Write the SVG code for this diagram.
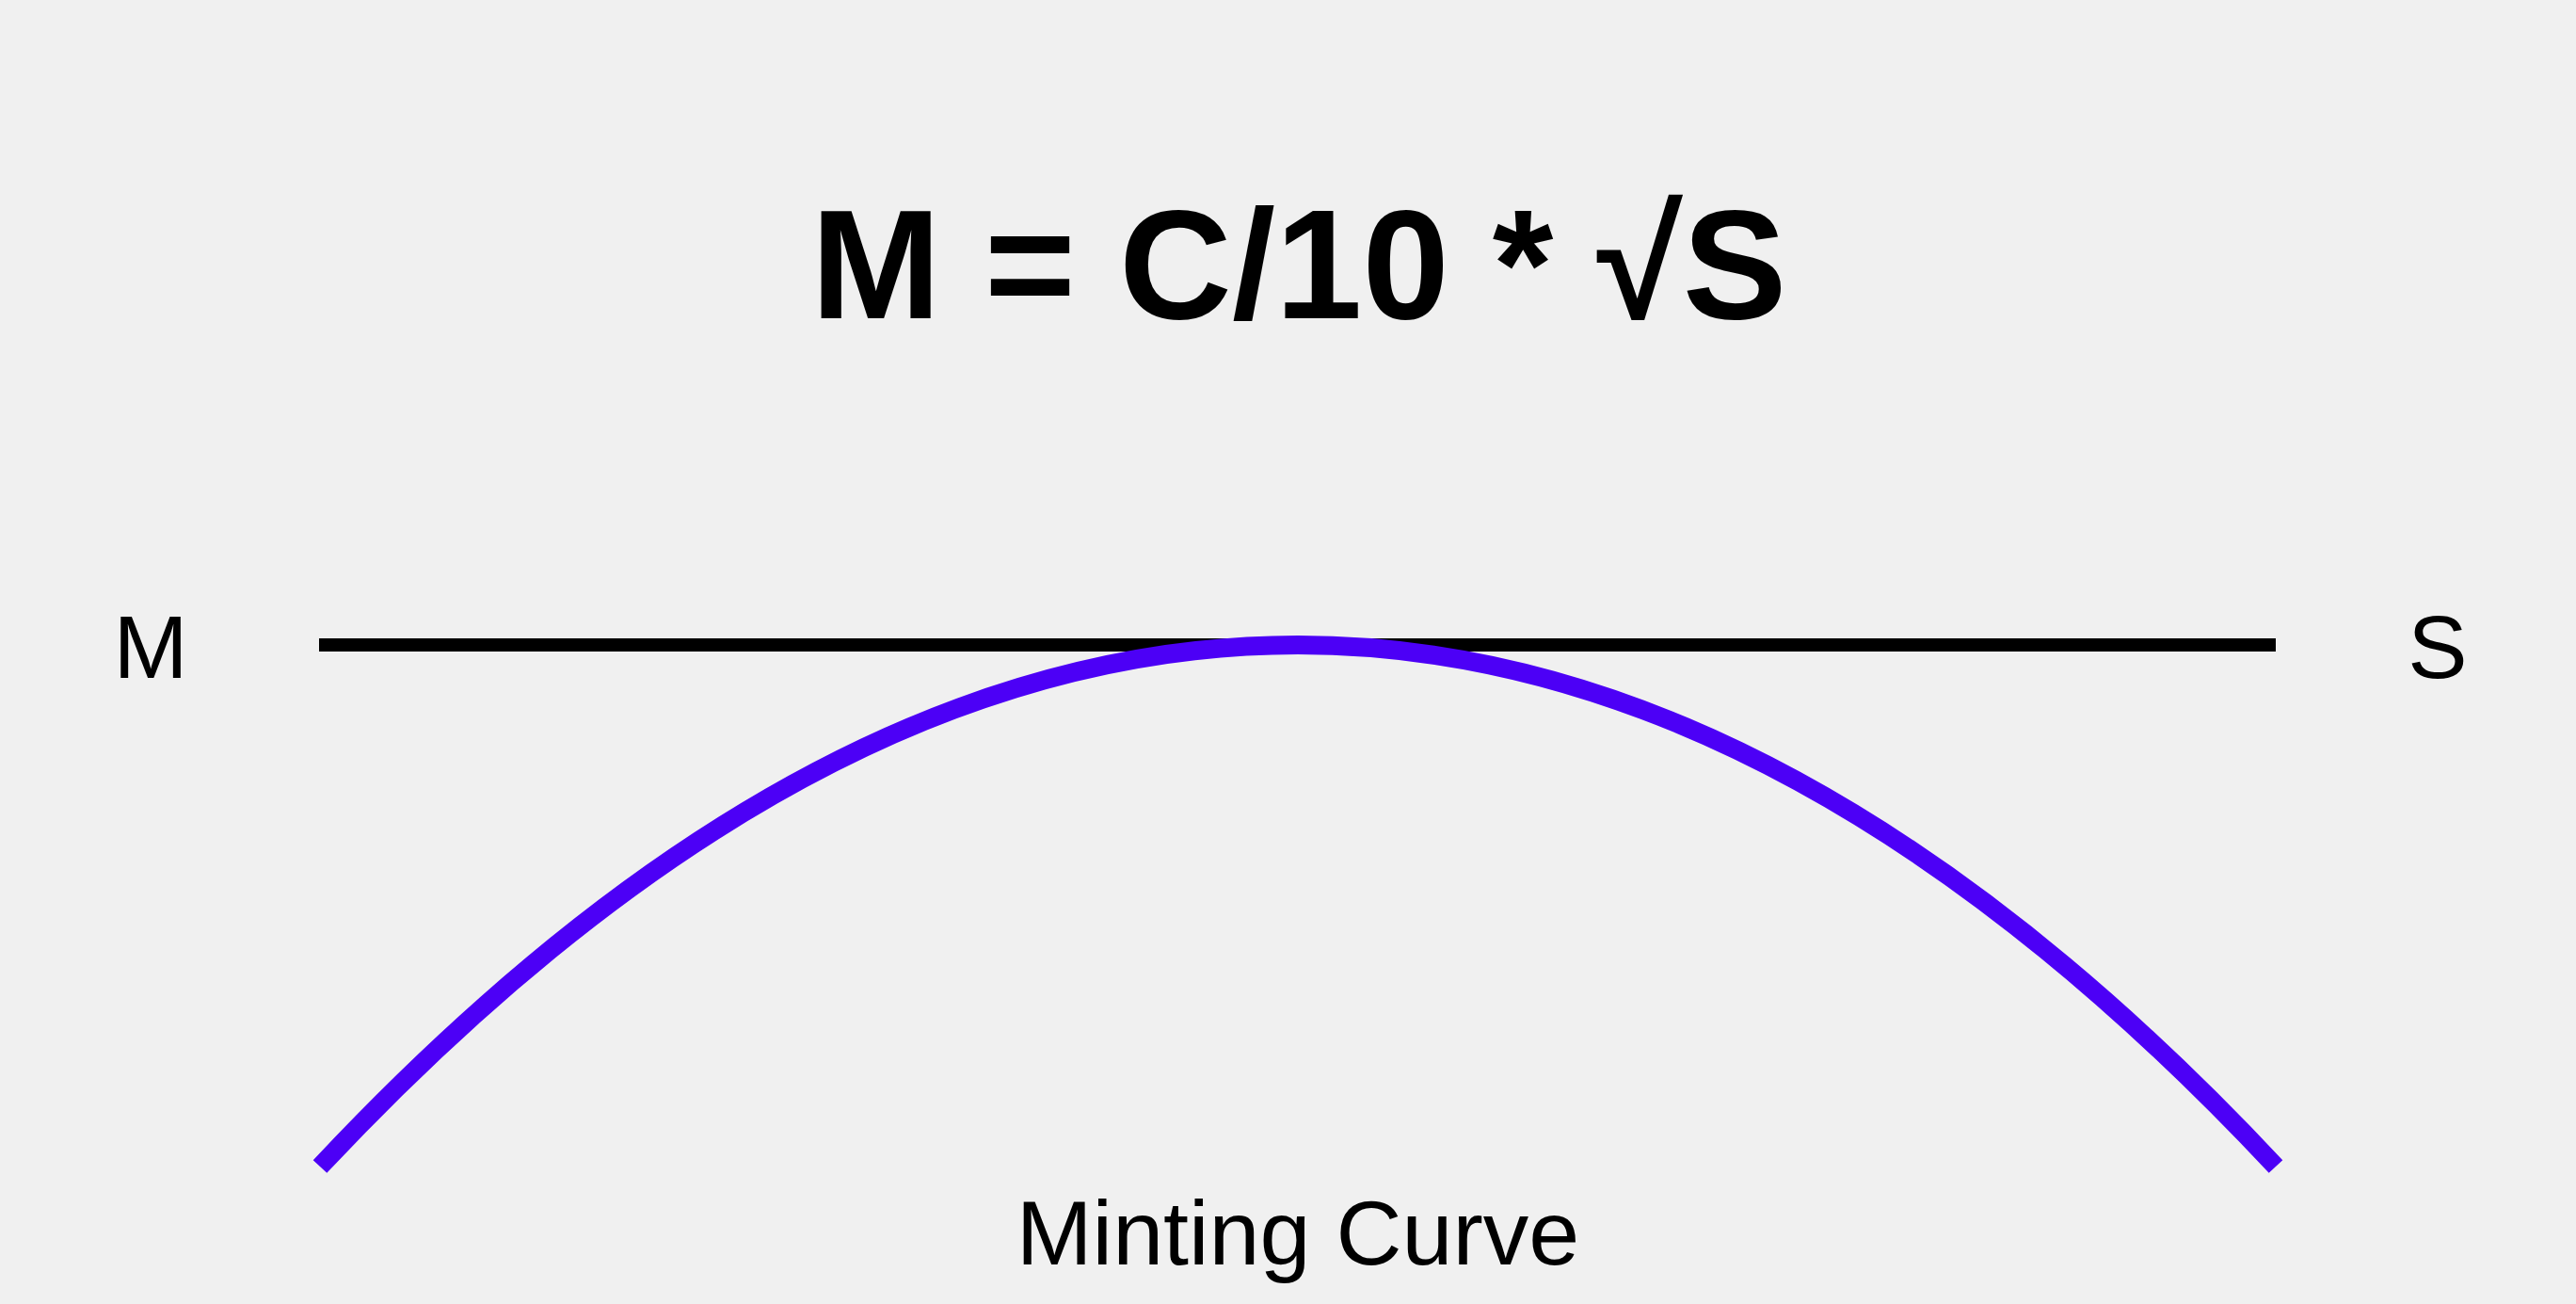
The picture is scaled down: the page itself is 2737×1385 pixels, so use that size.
<svg xmlns="http://www.w3.org/2000/svg" width="2737" height="1385" viewBox="0 0 2737 1385">
<style>
.lbl{font-family:"Liberation Sans",Arial,sans-serif;font-size:95px;fill:#000;text-anchor:middle}
.cap{font-size:97px}
.title{font-family:"Liberation Sans",Arial,sans-serif;font-size:166px;font-weight:bold;fill:#000;text-anchor:middle}
</style>
<rect x="0" y="0" width="2737" height="1385" fill="#f0f0f0"/>
<g id="title"><text class="title" x="1380" y="338">M = C/10 * √S</text></g>
<g id="label-m"><text class="lbl" x="160" y="720">M</text></g>
<g id="label-s"><text class="lbl" x="2590" y="720">S</text></g>
<g id="axis"><line x1="339" y1="685" x2="2418" y2="685" stroke="#000" stroke-width="14"/></g>
<g id="curve"><path d="M340,1239 Q1379,131 2418,1239" fill="none" stroke="#4c00f6" stroke-width="20"/></g>
<g id="caption"><text class="lbl cap" x="1379" y="1343">Minting Curve</text></g>
</svg>
